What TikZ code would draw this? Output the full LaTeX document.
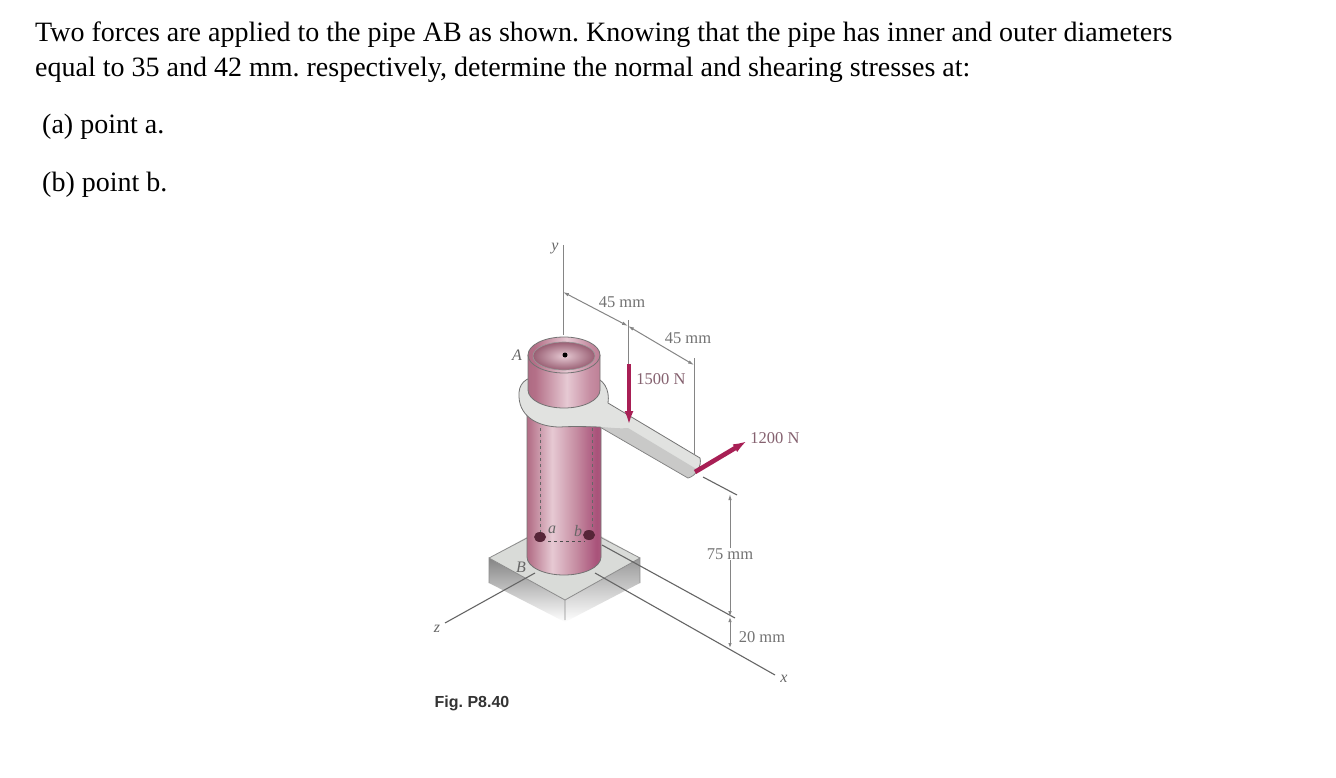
\documentclass[tikz,border=0pt]{standalone}
\usepackage{fontspec}
\setmainfont{Liberation Serif}
\setsansfont{Liberation Sans}
\usetikzlibrary{arrows.meta}
\definecolor{pipeA}{HTML}{E6C9D3}
\definecolor{pipeB}{HTML}{B47088}
\definecolor{pipeC}{HTML}{93566C}
\definecolor{pipeD}{HTML}{C68DA2}
\definecolor{pipeE}{HTML}{A9527A}
\definecolor{crim}{HTML}{A81F55}
\definecolor{dimgray}{HTML}{858585}
\definecolor{steel}{HTML}{D9DBD8}
\pgfdeclarehorizontalshading{pipeshade}{100bp}{
 color(0bp)=(pipeC); color(26bp)=(pipeB); color(42bp)=(pipeA); color(58bp)=(pipeD); color(72bp)=(pipeE); color(86bp)=(pipeB); color(100bp)=(pipeC)}
\pgfdeclarehorizontalshading{bandshade}{100bp}{
 color(0bp)=(pipeC); color(30bp)=(pipeB); color(52bp)=(pipeA); color(68bp)=(pipeD); color(84bp)=(pipeB); color(100bp)=(pipeC)}
\tikzset{
 para/.style={anchor=base west,inner sep=0pt,font=\fontsize{28}{32}\selectfont,text=black},
 dimlab/.style={inner sep=1pt,font=\fontsize{16.5}{18}\selectfont,text=black!55},
 varlab/.style={inner sep=0pt,font=\fontsize{16}{18}\itshape\selectfont,text=black!60},
 dimline/.style={dimgray,line width=1pt},
 dimarr/.style={dimline,{Latex[length=6pt,width=3.5pt]}-{Latex[length=6pt,width=3.5pt]}},
 axisline/.style={black!60,line width=1.1pt},
 force/.style={crim,line width=4.6pt,-{Latex[length=14pt,width=9pt]}},
 pipeedge/.style={black!55,line width=0.8pt}
}
\begin{document}
\frenchspacing
\begin{tikzpicture}[x=1pt,y=-1pt]
\useasboundingbox (0,0) rectangle (1336,778);
\fill[white] (0,0) rectangle (1336,778);
% text
\node[para] (t1) at (35,42) {Two forces are applied to the pipe AB as shown. Knowing that the pipe has inner and outer diameters};
\node[para] (t2) at (35,77) {equal to 35 and 42 mm. respectively, determine the normal and shearing stresses at:};
\node[para] (t3) at (42,134) {(a) point a.};
\node[para] (t4) at (42,192) {(b) point b.};
% base plate
\shade[top color=black!48,bottom color=white] (489,558) -- (565,600) -- (565,622) -- (489,583) -- cycle;
\shade[top color=black!40,bottom color=white] (565,600) -- (640,558) -- (640,583) -- (565,622) -- cycle;
\fill[steel] (489,558) -- (565,516) -- (640,558) -- (565,600) -- cycle;
\draw[pipeedge,black!45] (489,583) -- (489,558) -- (565,600) -- (640,558) -- (640,583);
\draw[pipeedge,black!45] (489,558) -- (527,538) (600,537) -- (640,558) (565,600) -- (565,620);
% lower pipe
\shade[shading=pipeshade] (527,408) -- (601,408) -- (601,557) arc[start angle=0,end angle=180,x radius=37,y radius=18] -- cycle;
\draw[pipeedge] (527,408) -- (527,557) arc[start angle=180,end angle=360,x radius=37,y radius=-18] -- (601,408);
% hidden lines on pipe
\draw[black!60,dashed,line width=0.8pt] (540,428) -- (540,532);
\draw[black!60,dashed,line width=0.8pt] (592,428) -- (592,530);
\draw[black!70,dashed,line width=0.8pt] (548,541) -- (585,541);
\fill[black!55!crim!80!gray] (540,537) ellipse[x radius=6,y radius=5];
\fill[black!55!crim!80!gray] (589,535) ellipse[x radius=6,y radius=5];
\node[varlab] (la) at (552,530) {a};
\node[varlab] (lb) at (578,531) {b};
% collar and handle
\fill[steel!80!white,draw=black!55,line width=0.8pt]
 (519,397) .. controls (518,384) and (525,377) .. (540,376)
 -- (590,376) .. controls (604,378) and (610,390) .. (608,403)
 -- (700,458) .. controls (702,466) and (696,476) .. (688,478)
 -- (600,427) .. controls (598,427) and (575,426) .. (560,427)
 .. controls (540,427) and (520,418) .. (519,397) -- cycle;
\fill[black!30,opacity=0.5] (600,427) -- (688,478) .. controls (692,477) and (696,474) .. (698,470) -- (628,428) .. controls (618,429) and (606,427) .. (600,427) -- cycle;
% upper pipe
\shade[shading=bandshade] (528,355) -- (600,355) -- (600,390) arc[start angle=0,end angle=180,x radius=36,y radius=18] -- cycle;
\draw[pipeedge] (528,355) -- (528,390) arc[start angle=180,end angle=360,x radius=36,y radius=-18] -- (600,355);
\shade[shading=bandshade,draw=black!55,line width=0.8pt] (564,355) ellipse[x radius=36,y radius=18];
\shade[inner color=pipeA,outer color=pipeB!85!black,draw=black!40,line width=0.6pt] (564,356) ellipse[x radius=31,y radius=14];
\fill[black] (565,355) circle[radius=2.5];
% axes and extension lines
\coordinate (ytop) at (563,245); \coordinate (yend) at (563,335);
\coordinate (d1) at (563,292); \coordinate (d2) at (628,326); \coordinate (d3) at (694,365);
\coordinate (e1) at (628,320); \coordinate (e2) at (628,364);
\coordinate (e3) at (694,358); \coordinate (e4) at (694,455);
\draw[dimline] (ytop) -- (yend);
\draw[dimline] (e1) -- (e2);
\draw[dimline] (e3) -- (e4);
\draw[dimarr] (d1) -- (d2);
\draw[dimarr] (d2) -- (d3);
\coordinate (zs) at (535,573); \coordinate (ze) at (445,623);
\coordinate (xs) at (595,573); \coordinate (xe) at (775,675);
\coordinate (ms) at (602,545); \coordinate (me) at (735,618);
\coordinate (ts) at (703,477); \coordinate (te) at (737,495);
\draw[axisline] (zs) -- (ze);
\draw[axisline] (xs) -- (xe);
\draw[axisline] (ms) -- (me);
\draw[axisline] (ts) -- (te);
\coordinate (v1) at (730,494); \coordinate (v2) at (730,617); \coordinate (v3) at (730,648);
\draw[dimarr] (v1) -- (v2);
\draw[dimline,{Latex[length=5pt,width=3.5pt]}-{Latex[length=5pt,width=3.5pt]}] (v2) -- (v3);
% forces
\coordinate (f1s) at (629,364); \coordinate (f1e) at (629,425);
\coordinate (f2s) at (695,472); \coordinate (f2e) at (747,441);
\draw[force] (f1s) -- (f1e);
\draw[force] (f2s) -- (f2e);
% labels
\node[varlab] (ly) at (555,249) {y};
\node[varlab] (lA) at (517,355) {A};
\node[varlab] (lB) at (521,567) {B};
\node[varlab] (lz) at (437,629) {z};
\node[varlab] (lx) at (784,679) {x};
\node[dimlab] (l45a) at (622,302) {45 mm};
\node[dimlab] (l45b) at (688,338) {45 mm};
\node[dimlab,text=crim!40!black!65] (l1500) at (661,379) {1500 N};
\node[dimlab,text=crim!40!black!65] (l1200) at (775,438) {1200 N};
\node[dimlab,fill=white] (l75) at (730,554) {75 mm};
\node[dimlab] (l20) at (762,637) {20 mm};
\node[inner sep=0pt,font=\sffamily\bfseries\fontsize{16}{18}\selectfont,text=black!80] (fig) at (472,703) {Fig. P8.40};
\end{tikzpicture}
\end{document}
